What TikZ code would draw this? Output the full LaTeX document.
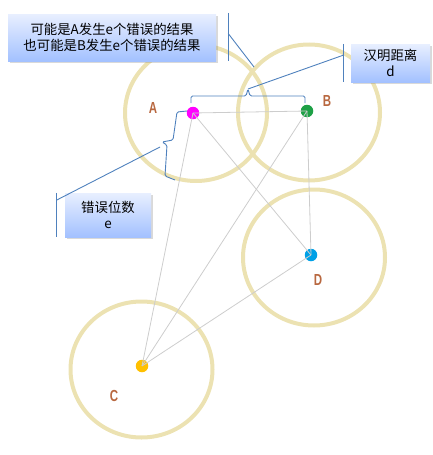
\documentclass[tikz,border=0pt]{standalone}
\usepackage{fontspec}
\newfontfamily\cjk{Noto Sans CJK SC}
\newfontfamily\lblfont[FakeStretch=0.72]{Liberation Sans}
\usetikzlibrary{shadows}

\definecolor{ringcol}{RGB}{236,226,178}
\definecolor{linkcol}{RGB}{205,205,205}
\definecolor{calloutcol}{RGB}{79,129,189}
\definecolor{boxtop}{RGB}{232,239,255}
\definecolor{boxbot}{RGB}{163,193,255}
\definecolor{lblcol}{RGB}{184,104,64}
\definecolor{dotA}{RGB}{255,0,255}
\definecolor{dotB}{RGB}{30,160,70}
\definecolor{dotC}{RGB}{255,192,0}
\definecolor{dotD}{RGB}{0,160,230}

\tikzset{
    ring/.style={draw=ringcol, line width=4pt},
    link/.style={draw=linkcol, line width=0.8pt},
    dot/.style={circle, inner sep=0pt, minimum size=12.5pt},
    lbl/.style={text=lblcol, font=\lblfont\bfseries\fontsize{16}{16}\selectfont},
    callout/.style={draw=calloutcol, line width=0.9pt},
    infobox/.style={rectangle, inner sep=0pt, top color=boxtop, bottom color=boxbot,
        align=center, font=\cjk\fontsize{13.4}{16.5}\selectfont,
        drop shadow={shadow xshift=1.5pt, shadow yshift=-2pt, opacity=0.3}}
}

\begin{document}
\begin{tikzpicture}[x=1pt, y=-1pt]
        \useasboundingbox (0,0) rectangle (432,455);

        % Draw the circles of radius e
        \foreach \cx/\cy in {196/113, 309/112.5, 141.5/369.5, 314/257.5} {
            \draw[ring] (\cx,\cy) ellipse (71 and 68);
        }

        % Code words
        \node[dot, fill=dotA] (A) at (193,113) {};
        \node[dot, fill=dotB] (B) at (307,111) {};
        \node[dot, fill=dotC] (C) at (142,366) {};
        \node[dot, fill=dotD] (D) at (311,255) {};

        % Distances between code words
        \foreach \u/\v in {A/B, A/C, A/D, B/C, B/D, C/D} {
            \draw[link] (\u.center) -- (\v.center);
        }

        % Labels
        \node[lbl] (lA) at (153,108) {A};
        \node[lbl] (lB) at (327,101) {B};
        \node[lbl] (lC) at (114,396) {C};
        \node[lbl] (lD) at (318,280) {D};

        % Braces
        \draw[callout, rounded corners=1.5pt] (191,103) -- (191,96) -- (246,96) -- (248,89)
            -- (250,96) -- (305,96) -- (305,103);
        \draw[callout, rounded corners=1.5pt] (187,111) -- (177,112) -- (173,140) -- (162,142)
            -- (167,145) -- (165,176) -- (175,180);
        \coordinate (dtip) at (248,89);
        \coordinate (etip) at (160,147);
        \coordinate (overlap) at (254,67);

        % Callout boxes
        \node[infobox, minimum width=208pt, minimum height=47pt] (box1) at (112,37.5)
            {可能是A发生e个错误的结果\\也可能是B发生e个错误的结果};
        \node[infobox, minimum width=79pt, minimum height=38pt] (box2) at (390.5,63)
            {汉明距离\\d};
        \node[infobox, minimum width=86pt, minimum height=44pt] (box3) at (108,215)
            {错误位数\\e};

        % Accent bars and leaders
        \draw[callout] ([xshift=12pt,yshift=1pt]box1.north east) -- ([xshift=12pt]box1.south east);
        \coordinate (bar1) at ([xshift=12pt,yshift=4pt]box1.east);
        \draw[callout] (bar1) -- (overlap);

        \draw[callout] ([xshift=-7pt]box2.north west) -- ([xshift=-7pt]box2.south west);
        \coordinate (bar2) at ([xshift=-7pt,yshift=8pt]box2.west);
        \draw[callout] (bar2) -- (dtip);

        \draw[callout] ([xshift=-8pt]box3.north west) -- ([xshift=-8pt]box3.south west);
        \coordinate (bar3) at ([xshift=-8pt,yshift=15pt]box3.west);
        \draw[callout] (bar3) -- (etip);

    \end{tikzpicture}
\end{document}
